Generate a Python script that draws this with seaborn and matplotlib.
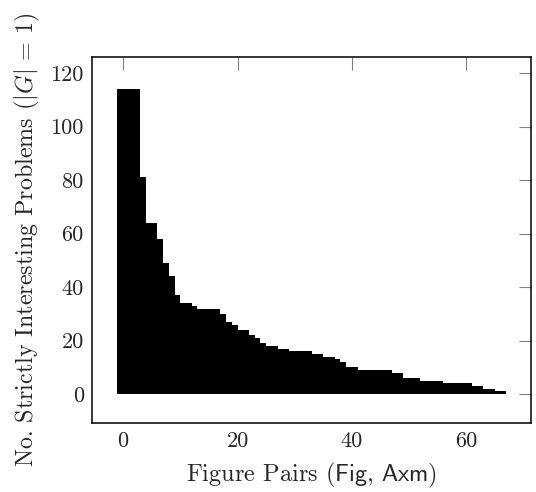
import numpy as np
import pandas as pd
import matplotlib
matplotlib.use("Agg")
import matplotlib.pyplot as plt
import seaborn as sns

# -------------------------------------------------------
# Data (one value per figure pair)
# -------------------------------------------------------
pair_index = list(range(-1, 67))
problem_counts = [
    114, 114, 114, 114, 81, 64, 64, 58, 49, 44,
    37, 34, 34, 33, 32, 32, 32, 32, 30, 27,
    26, 24, 24, 22, 21, 19, 18, 18, 17, 17,
    16, 16, 16, 16, 15, 15, 14, 14, 13, 12,
    10, 10, 9, 9, 9, 9, 9, 9, 8, 8,
    6, 6, 6, 5, 5, 5, 5, 4, 4, 4,
    4, 4, 3, 3, 2, 2, 1, 1,
]
x_ticks = [0, 20, 40, 60]
y_ticks = [0, 20, 40, 60, 80, 100, 120]

df = pd.DataFrame({"pair": np.array(pair_index) + 0.5, "count": problem_counts})

# -------------------------------------------------------
# Style
# -------------------------------------------------------
sns.set_theme(style="white")
plt.rcParams["font.family"] = ["cmr10", "DejaVu Serif"]
plt.rcParams["mathtext.fontset"] = "cm"
plt.rcParams["axes.formatter.use_mathtext"] = True

fig, ax = plt.subplots(figsize=(5.36, 4.92), dpi=100)
fig.subplots_adjust(left=0.172, right=0.991, bottom=0.14, top=0.884)

sns.barplot(
    data=df,
    x="pair",
    y="count",
    native_scale=True,
    width=1.0,
    color="black",
    saturation=1,
    linewidth=0,
    ax=ax,
)

ax.set_xlim(-5.42, 71.37)
ax.set_ylim(-10.84, 126.0)
ax.set_xticks(x_ticks)
ax.set_yticks(y_ticks)
ax.set_xticklabels([str(t) for t in x_ticks])
ax.set_yticklabels([str(t) for t in y_ticks])

ax.tick_params(
    direction="in", length=9, width=0.8, color="0.5",
    top=True, right=True, labelsize=16, pad=6,
)
for spine in ax.spines.values():
    spine.set_color("black")
    spine.set_linewidth(1.1)
    spine.set_visible(True)

ax.set_xlabel(r"Figure Pairs ($\mathsf{Fig}$, $\mathsf{Axm}$)", fontsize=17.5, labelpad=7)
ax.set_ylabel(r"No. Strictly Interesting Problems ($|G|\,=\,1$)", fontsize=17.3, labelpad=6)

fig.savefig("out.png", dpi=100)
